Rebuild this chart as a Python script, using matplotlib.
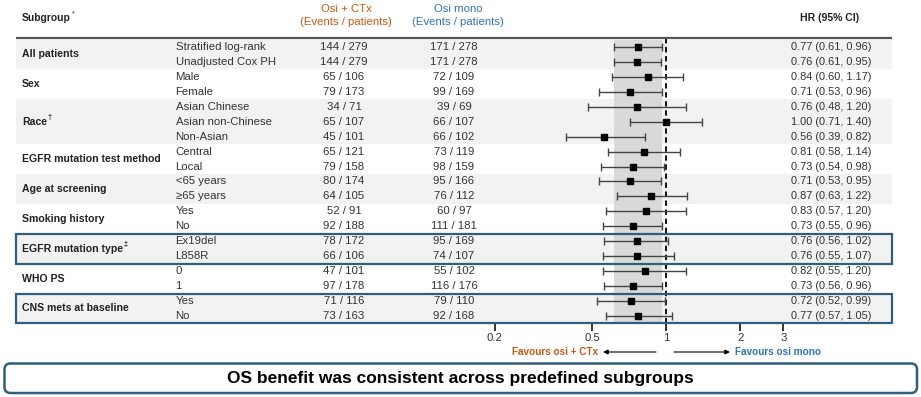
import numpy as np
import matplotlib
matplotlib.use("Agg")
import matplotlib.pyplot as plt
from matplotlib.patches import Rectangle, FancyBboxPatch

plt.rcParams['font.family'] = ['Liberation Sans', 'DejaVu Sans']

# ---------------- data ----------------
groups = ['All patients', 'Sex', 'Race', 'EGFR mutation test method',
          'Age at screening', 'Smoking history', 'EGFR mutation type',
          'WHO PS', 'CNS mets at baseline']
group_sup = ['', '', '†', '', '', '', '‡', '', '']
group_sizes = [2, 2, 3, 2, 2, 2, 2, 2, 2]
boxed_groups = ['EGFR mutation type', 'CNS mets at baseline']

subgroups = ['Stratified log-rank', 'Unadjusted Cox PH', 'Male', 'Female',
             'Asian Chinese', 'Asian non-Chinese', 'Non-Asian', 'Central', 'Local',
             '<65 years', '≥65 years', 'Yes', 'No', 'Ex19del', 'L858R', '0', '1',
             'Yes', 'No']
ctx_events = [144, 144, 65, 79, 34, 65, 45, 65, 79, 80, 64, 52, 92, 78, 66, 47, 97, 71, 73]
ctx_patients = [279, 279, 106, 173, 71, 107, 101, 121, 158, 174, 105, 91, 188, 172, 106, 101, 178, 116, 163]
mono_events = [171, 171, 72, 99, 39, 66, 66, 73, 98, 95, 76, 60, 111, 95, 74, 55, 116, 79, 92]
mono_patients = [278, 278, 109, 169, 69, 107, 102, 119, 159, 166, 112, 97, 181, 169, 107, 102, 176, 110, 168]
hr = [0.77, 0.76, 0.84, 0.71, 0.76, 1.00, 0.56, 0.81, 0.73, 0.71, 0.87, 0.83, 0.73, 0.76, 0.76, 0.82, 0.73, 0.72, 0.77]
ci_lo = [0.61, 0.61, 0.60, 0.53, 0.48, 0.71, 0.39, 0.58, 0.54, 0.53, 0.63, 0.57, 0.55, 0.56, 0.55, 0.55, 0.56, 0.52, 0.57]
ci_hi = [0.96, 0.95, 1.17, 0.96, 1.20, 1.40, 0.82, 1.14, 0.98, 0.95, 1.22, 1.20, 0.96, 1.02, 1.07, 1.20, 0.96, 0.99, 1.05]
overall_ci = (0.61, 0.96)
x_ticks = [0.2, 0.5, 1, 2, 3]
x_ticklabels = ['0.2', '0.5', '1', '2', '3']

# ---------------- layout ----------------
W, H = 921, 397
ROW0, DY = 47.0, 14.94          # pixel y of first row centre, row pitch
ORANGE = '#c55a11'
BLUE = '#2e75b6'
BOXC = '#2f5f7c'
TXT = '#333333'
DARK = '#222222'

fig = plt.figure(figsize=(W / 100, H / 100), dpi=100)

# pixel-coordinate overlay (for header / footer decorations)
axp = fig.add_axes([0, 0, 1, 1], zorder=3)
axp.set_xlim(0, W)
axp.set_ylim(H, 0)
axp.axis('off')
axp.set_facecolor('none')

# row-unit axes for the table
ax = fig.add_axes([0, 0, 1, 1], zorder=0)
ax.set_xlim(0, W)
ax.set_ylim((H - ROW0) / DY, -ROW0 / DY)   # rows unit, inverted
ax.axis('off')

n = len(subgroups)
rows = np.arange(n)

# group bands + group labels
starts = np.cumsum([0] + group_sizes[:-1])
for gi, (g, s, k) in enumerate(zip(groups, starts, group_sizes)):
    if gi % 2 == 0:
        ax.add_patch(Rectangle((16, s - 0.5), 876, k, facecolor='#f2f2f2',
                               edgecolor='none', zorder=0))
    yc = s + (k - 1) / 2
    t = ax.text(22, yc, g, fontsize=7.6, fontweight='bold', color=DARK,
                va='center', ha='left')
    if group_sup[gi]:
        ax.annotate(group_sup[gi], xy=(1.01, 0.55), xycoords=t, fontsize=5.2,
                    fontweight='bold', color=DARK, va='bottom', ha='left')

# header
th = axp.text(22, 18, 'Subgroup', fontsize=7.4, fontweight='bold', color=DARK,
              va='center', ha='left')
axp.annotate('*', xy=(1.02, 0.6), xycoords=th, fontsize=5.2, color=DARK,
             va='bottom', ha='left')
axp.text(346, 9.5, 'Osi + CTx', fontsize=8.2, color=ORANGE, ha='center', va='center')
axp.text(346, 21.7, '(Events / patients)', fontsize=8.2, color=ORANGE, ha='center', va='center')
axp.text(458, 9.5, 'Osi mono', fontsize=8.2, color=BLUE, ha='center', va='center')
axp.text(458, 21.7, '(Events / patients)', fontsize=8.2, color=BLUE, ha='center', va='center')
axp.text(830, 18, 'HR (95% CI)', fontsize=7.6, fontweight='bold', color=DARK,
         ha='center', va='center')
axp.plot([16, 892], [38.3, 38.3], color='#555555', lw=1.6, solid_capstyle='butt')

# table body
for i in rows:
    ax.text(175.5, i, subgroups[i], fontsize=8.2, color=TXT, va='center', ha='left')
    ax.text(344, i, f'{ctx_events[i]} / {ctx_patients[i]}', fontsize=8.2, color=TXT,
            va='center', ha='center')
    ax.text(454, i, f'{mono_events[i]} / {mono_patients[i]}', fontsize=8.2, color=TXT,
            va='center', ha='center')
    ax.text(790.5, i, f'{hr[i]:.2f} ({ci_lo[i]:.2f}, {ci_hi[i]:.2f})', fontsize=7.9,
            color=TXT, va='center', ha='left')

# ---------------- forest axes ----------------
X0, X1 = 470, 800
PX_PER_LN = 106.6
X_ONE = 666.3
top_px = ROW0 - 0.5 * DY
bot_px = ROW0 + (n - 0.5) * DY
axf = fig.add_axes([X0 / W, 1 - bot_px / H, (X1 - X0) / W, (bot_px - top_px) / H], zorder=1)
axf.set_facecolor('none')
axf.set_xscale('log')
axf.set_xlim(np.exp((X0 - X_ONE) / PX_PER_LN), np.exp((X1 - X_ONE) / PX_PER_LN))
axf.set_ylim(n - 0.5, -0.5)
for sp in axf.spines.values():
    sp.set_visible(False)
axf.set_yticks([])
axf.set_xticks(x_ticks)
axf.set_xticklabels(x_ticklabels)
axf.xaxis.set_minor_locator(matplotlib.ticker.NullLocator())
axf.tick_params(axis='x', direction='out', length=6, width=1.4, color='#333333',
                labelsize=8.2, labelcolor=TXT, pad=1)

axf.axvspan(overall_ci[0], overall_ci[1], color='#d9d9d9', zorder=0.5, lw=0)
axf.plot([1, 1], [-0.62, n - 0.5 + 0.5], color='black', lw=1.3, ls=(0, (3, 2)),
         zorder=1, clip_on=False)
hr_a = np.array(hr)
axf.errorbar(hr_a, rows, xerr=[hr_a - np.array(ci_lo), np.array(ci_hi) - hr_a],
             fmt='none', ecolor='#444444', elinewidth=1.0, capsize=3.2, capthick=1.0,
             zorder=2)
axf.plot(hr_a, rows, 's', color='black', ms=4.8, zorder=3)

# boxed groups (drawn above the shaded band)
for g in boxed_groups:
    gi = groups.index(g)
    s, k = starts[gi], group_sizes[gi]
    r = Rectangle((16, s - 0.5), 876, k, facecolor='none', edgecolor=BOXC, lw=1.6,
                  transform=ax.transData, clip_on=False, zorder=4)
    axf.add_artist(r)

# favours arrows
ya = 352
axp.text(598, ya, 'Favours osi + CTx', fontsize=7.2, fontweight='bold', color=ORANGE,
         ha='right', va='center')
axp.annotate('', xy=(603, ya), xytext=(656, ya),
             arrowprops=dict(arrowstyle='-|>', color='black', lw=0.8,
                             mutation_scale=7, shrinkA=0, shrinkB=0))
axp.annotate('', xy=(730, ya), xytext=(674, ya),
             arrowprops=dict(arrowstyle='-|>', color='black', lw=0.8,
                             mutation_scale=7, shrinkA=0, shrinkB=0))
axp.text(735, ya, 'Favours osi mono', fontsize=7.2, fontweight='bold', color=BLUE,
         ha='left', va='center')

# bottom message box
box = FancyBboxPatch((4.5, 363.5), 912.5, 29.5,
                     boxstyle='round,pad=0,rounding_size=6',
                     facecolor='white', edgecolor=BOXC, lw=1.8, zorder=5)
axp.add_patch(box)
axp.text(460, 378.5, 'OS benefit was consistent across predefined subgroups',
         fontsize=12.5, fontweight='bold', color='black', ha='center', va='center', zorder=6)

fig.savefig('out.png', dpi=100)
